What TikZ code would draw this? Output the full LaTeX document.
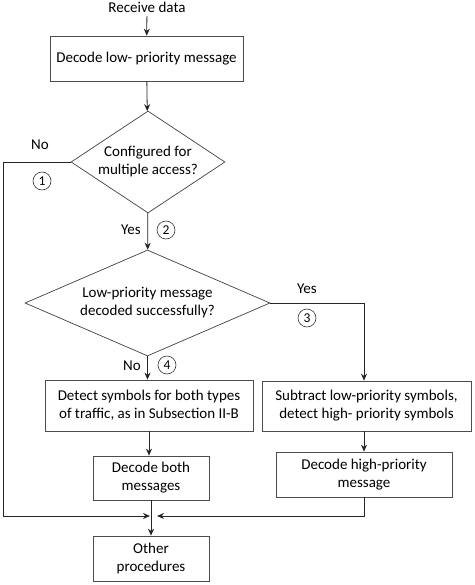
\documentclass[tikz,border=0pt]{standalone}
\usepackage{fontspec}
\setmainfont{Carlito}
\usetikzlibrary{shapes.geometric,arrows.meta}

\tikzstyle{step box} = [draw=black!70, line width=0.7pt, text centered, inner sep=0pt]
\tikzstyle{choice} = [diamond, draw=black!75, line width=0.7pt, text centered, inner sep=0pt, align=center]
\tikzstyle{num} = [circle, draw=black!80, line width=0.6pt, minimum size=18pt, inner sep=0pt, font=\fontsize{13.5}{13.5}\selectfont]
\tikzstyle{link} = [draw=black!85, line width=0.8pt, -{Stealth[length=7pt,width=6pt]}]

\begin{document}
\begin{tikzpicture}[x=1pt, y=-1pt, font=\fontsize{15}{18}\selectfont]
\useasboundingbox (0,0) rectangle (474,585);

\node (recv) at (147,7) {Receive data};
\node[step box, minimum width=193pt, minimum height=45pt] (dlow) at (146.5,58.5) {Decode low- priority message};
\node[choice, aspect=1.51, minimum width=154pt, minimum height=102pt] (cfg) at (148,162) {Configured for\\multiple access?};
\node[choice, aspect=2.31, minimum width=245pt, minimum height=106pt] (lowok) at (147.5,303) {Low-priority message\\decoded successfully?};
\node[step box, minimum width=208pt, minimum height=51pt, align=center] (detect) at (149,405.5) {Detect symbols for both types\\of traffic, as in Subsection II-B};
\node[step box, minimum width=209pt, minimum height=50pt, align=center] (sub) at (366.5,406) {Subtract low-priority symbols,\\detect high- priority symbols};
\node[step box, minimum width=116pt, minimum height=44pt, align=center] (both) at (151,478) {Decode both\\messages};
\node[step box, minimum width=176pt, minimum height=45pt, align=center] (high) at (364,474.5) {Decode high-priority\\message};
\node[step box, minimum width=116pt, minimum height=45pt, align=center] (other) at (151,558.5) {Other\\procedures};

\coordinate (noedge) at (3,516);
\coordinate (mL) at (150,516);
\coordinate (mR) at (157,516);

% branch labels
\node (no1) at (40,145) {No};
\node[num] (n1) at (42,181) {1};
\node (yes2) at (131,230) {Yes};
\node[num] (n2) at (166,230) {2};
\node (yes3) at (307,289) {Yes};
\node[num] (n3) at (307,318) {3};
\node (no4) at (132,366) {No};
\node[num] (n4) at (167,365) {4};

\draw[link] (recv) -- (dlow);
\draw[link] (dlow) -- (cfg);
\draw[link] (cfg) -- (lowok);
\draw[link] (lowok.south) -- (lowok.south |- detect.north);
\draw[link] (lowok.east) -| (sub.north -| high.north);
\draw[link] (detect.south) -- (detect.south |- both.north);
\draw[link] (sub.south -| high.north) -- (high.north);
\draw[link] (both) -- (other);
\draw[link] (cfg.west) -| (noedge) -- (mL);
\draw[link] (high.south) |- (mR);
\end{tikzpicture}
\end{document}
